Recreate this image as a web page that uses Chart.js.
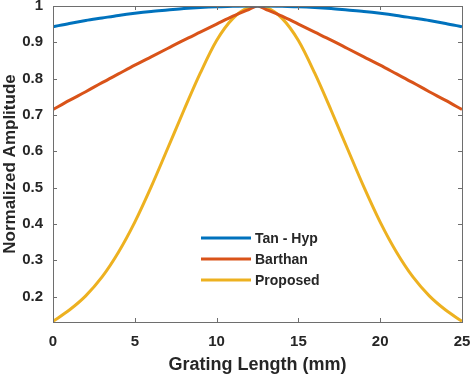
<!DOCTYPE html>
<html>
<head>
<meta charset="utf-8">
<script src="https://cdn.jsdelivr.net/npm/chart.js@4.4.0/dist/chart.umd.min.js"></script>
<style>
  html, body { margin: 0; padding: 0; background: #fff; }
  #wrap { width: 474px; height: 377px; }
</style>
</head>
<body>
<div id="wrap"><canvas id="chart" width="474" height="377"></canvas></div>
<script>
// values
const gratingLength = [0, 1, 2, 3, 4, 5, 6, 7, 8, 9, 10, 11, 12, 12.5, 13, 14, 15, 16, 17, 18, 19, 20, 21, 22, 23, 24, 25];
const tanHyp   = [0.943, 0.952, 0.960, 0.967, 0.974, 0.980, 0.985, 0.989, 0.993, 0.996, 0.998, 0.999, 1.000, 1.000,
                  1.000, 0.999, 0.998, 0.996, 0.993, 0.989, 0.985, 0.980, 0.974, 0.967, 0.960, 0.952, 0.943];
const barthan  = [0.715, 0.740, 0.764, 0.789, 0.813, 0.837, 0.860, 0.883, 0.906, 0.928, 0.950, 0.972, 0.991, 1.000,
                  0.991, 0.972, 0.950, 0.928, 0.906, 0.883, 0.860, 0.837, 0.813, 0.789, 0.764, 0.740, 0.715];
const proposed = [0.132, 0.163, 0.202, 0.254, 0.322, 0.405, 0.502, 0.607, 0.713, 0.815, 0.905, 0.966, 0.997, 1.000,
                  0.997, 0.966, 0.905, 0.815, 0.713, 0.607, 0.502, 0.405, 0.322, 0.254, 0.202, 0.163, 0.132];
const seriesNames = ['Tan - Hyp', 'Barthan', 'Proposed'];
const xTicks = [0, 5, 10, 15, 20, 25];
const yTicks = [0.2, 0.3, 0.4, 0.5, 0.6, 0.7, 0.8, 0.9, 1];

const FONT = '"Liberation Sans", Arial, Helvetica, sans-serif';
const TEXT = '#262626';
const AXIS = '#6e6e6e';

const toPoints = ys => gratingLength.map((x, i) => ({ x: x, y: ys[i] }));

// box around the axes with inward ticks on all four sides (matlab style)
const boxPlugin = {
    id: 'box',
    afterDatasetsDraw(chart) {
        const { ctx, chartArea: a, scales } = chart;
        ctx.save();
        ctx.strokeStyle = AXIS;
        ctx.lineWidth = 1;
        ctx.strokeRect(a.left + 0.5, a.top + 0.5, a.right - a.left, a.bottom - a.top);
        ctx.beginPath();
        xTicks.forEach(v => {
            const px = Math.round(scales.x.getPixelForValue(v)) + 0.5;
            ctx.moveTo(px, a.bottom); ctx.lineTo(px, a.bottom - 4);
            ctx.moveTo(px, a.top); ctx.lineTo(px, a.top + 4);
        });
        yTicks.forEach(v => {
            const py = Math.round(scales.y.getPixelForValue(v)) + 0.5;
            ctx.moveTo(a.left, py); ctx.lineTo(a.left + 4, py);
            ctx.moveTo(a.right, py); ctx.lineTo(a.right - 4, py);
        });
        ctx.stroke();
        ctx.restore();
    }
};

// legend drawn inside the plot area
const innerLegend = {
    id: 'innerLegend',
    afterDraw(chart) {
        const ctx = chart.ctx;
        ctx.save();
        ctx.font = 'bold 14px ' + FONT;
        ctx.textBaseline = 'middle';
        chart.data.datasets.forEach((ds, i) => {
            const y = 238 + i * 21;
            ctx.strokeStyle = ds.borderColor;
            ctx.lineWidth = 3;
            ctx.beginPath();
            ctx.moveTo(201, y); ctx.lineTo(251, y);
            ctx.stroke();
            ctx.fillStyle = TEXT;
            ctx.fillText(ds.label, 255, y + 1);
        });
        ctx.restore();
    }
};

new Chart(document.getElementById('chart'), {
    type: 'line',
    data: {
        datasets: [
            { label: seriesNames[0], data: toPoints(tanHyp), borderColor: '#0072BD' },
            { label: seriesNames[1], data: toPoints(barthan), borderColor: '#D95319' },
            { label: seriesNames[2], data: toPoints(proposed), borderColor: '#EDB120' }
        ]
    },
    options: {
        responsive: false,
        animation: false,
        layout: { padding: { top: 6, right: 12, left: 0, bottom: 0 } },
        elements: {
            point: { radius: 0 },
            line: { borderWidth: 3, cubicInterpolationMode: 'monotone', fill: false }
        },
        plugins: {
            legend: { display: false },
            tooltip: { enabled: false }
        },
        scales: {
            x: {
                type: 'linear',
                min: 0,
                max: 25,
                afterBuildTicks: s => { s.ticks = xTicks.map(v => ({ value: v })); },
                afterFit: s => { s.height = 55; s.paddingLeft = 0; s.paddingRight = 0; },
                grid: { display: false, drawTicks: false },
                border: { display: false },
                ticks: {
                    padding: 11,
                    color: TEXT,
                    font: { family: FONT, size: 15, weight: 'bold' },
                    maxRotation: 0
                },
                title: {
                    display: true,
                    text: 'Grating Length (mm)',
                    color: TEXT,
                    font: { family: FONT, size: 18, weight: 'bold' },
                    padding: { top: 0, bottom: 1 }
                }
            },
            y: {
                min: 0.13,
                max: 1,
                afterBuildTicks: s => { s.ticks = yTicks.map(v => ({ value: v })); },
                afterFit: s => { s.width = 53; s.paddingTop = 0; s.paddingBottom = 0; },
                grid: { display: false, drawTicks: false },
                border: { display: false },
                ticks: {
                    padding: 10,
                    color: TEXT,
                    font: { family: FONT, size: 15, weight: 'bold' },
                    callback: v => String(v)
                },
                title: {
                    display: true,
                    text: 'Normalized Amplitude',
                    color: TEXT,
                    font: { family: FONT, size: 17, weight: 'bold' },
                    padding: { top: 0, bottom: 0 }
                }
            }
        }
    },
    plugins: [boxPlugin, innerLegend]
});
</script>
</body>
</html>
